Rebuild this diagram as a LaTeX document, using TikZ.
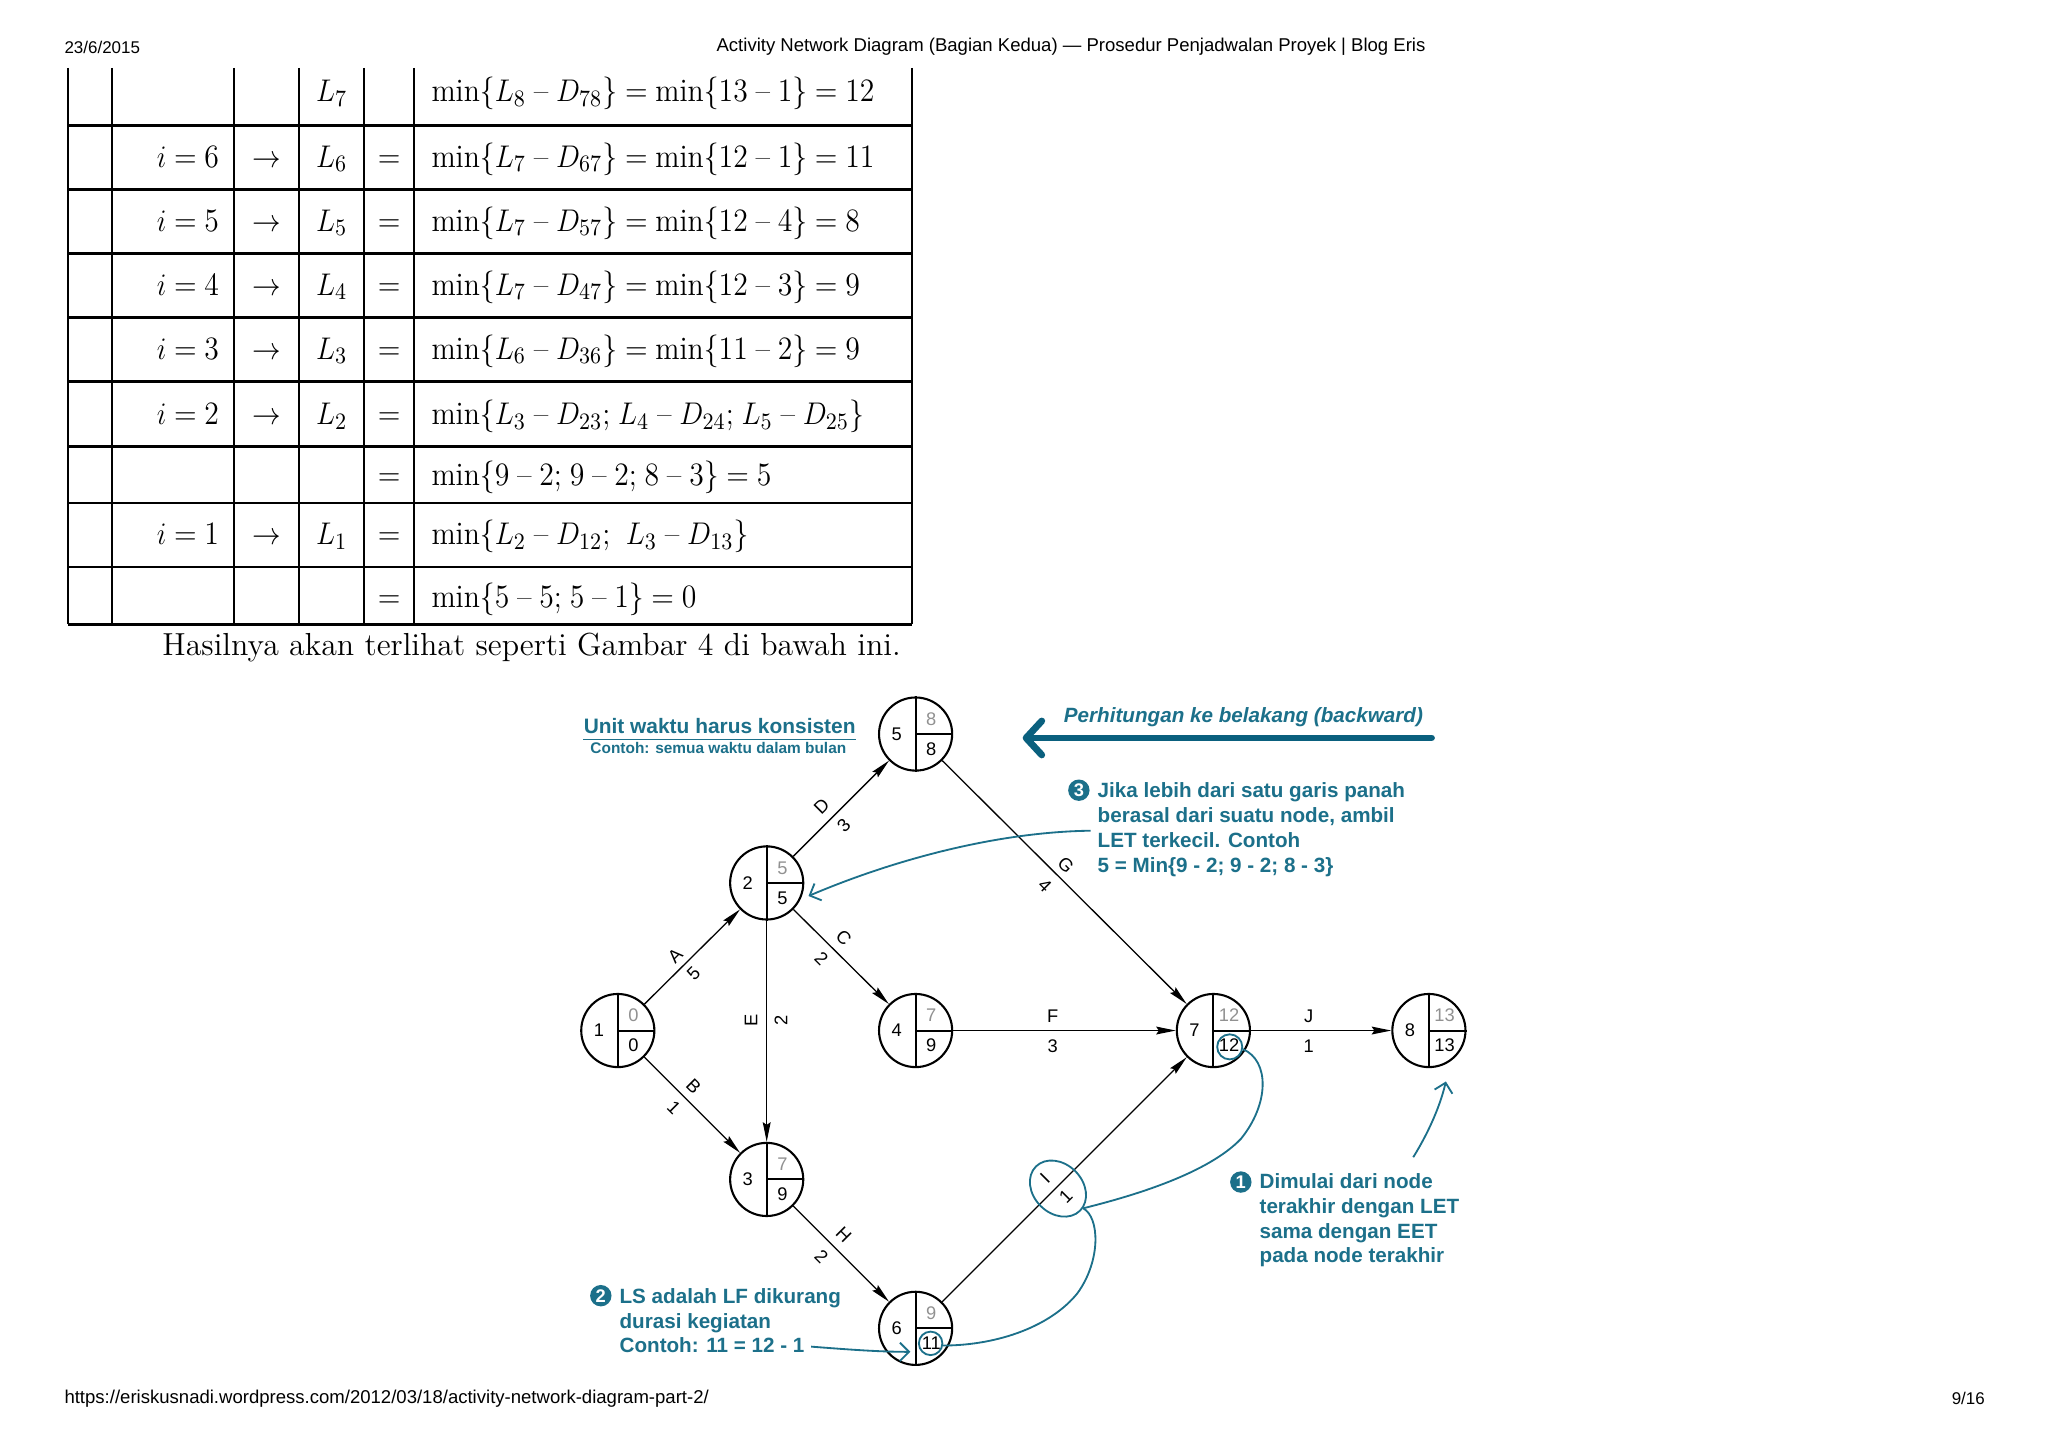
\documentclass[tikz,border=0pt]{standalone}
\usepackage{fontspec}
\setsansfont{Liberation Sans}
\usetikzlibrary{arrows.meta,calc,shapes.geometric}
\definecolor{tealA}{RGB}{28,112,138}
\definecolor{tealB}{RGB}{10,96,126}
\definecolor{eetgray}{RGB}{145,145,145}
\newcommand{\tabfont}{\fontsize{12.5}{14}\selectfont\spaceskip=0.26em plus 0.05em minus 0.05em\relax}
\newcommand{\evnode}[6]{%
  \node[evt] (#1) at (#2,#3) {};
  \draw[divline] (#1.north) -- (#1.south) (#1.center) -- (#1.east);
  \node[numtxt] (#1num) at ($(#1.center)+(-14.5,0)$) {#4};
  \node[numtxt, text=eetgray] (#1eet) at ($(#1.center)+(12,-11.5)$) {#5};
  \node[numtxt] (#1let) at ($(#1.center)+(12,11.5)$) {#6};
}
\begin{document}
\begin{tikzpicture}[x=0.5pt,y=-0.5pt,
  evt/.style={circle, draw, line width=0.8pt, minimum size=28pt, inner sep=0},
  divline/.style={line width=0.8pt},
  numtxt/.style={font=\sffamily\fontsize{7}{8}\selectfont, inner sep=0},
  lab/.style={font=\sffamily\fontsize{7}{8}\selectfont, inner sep=0},
  act/.style={line width=0.5pt, -{Stealth[length=7.5pt,width=3pt,inset=1pt]}},
  tline/.style={draw=tealA, line width=0.7pt},
  tarrow/.style={tline, -{Straight Barb[length=3.5pt,width=7pt]}},
  tcirc/.style={circle, draw=tealA, line width=0.7pt, inner sep=0},
  bullet/.style={circle, fill=tealA, text=white, font=\sffamily\bfseries\fontsize{7}{7}\selectfont, minimum size=8.2pt, inner sep=0},
  ann/.style={font=\sffamily\bfseries\fontsize{7.9}{9.5}\selectfont, text=tealA, align=left, inner sep=0, anchor=north west},
  hdr/.style={font=\sffamily\fontsize{6.5}{8}\selectfont, inner sep=0},
  hdrw/.style={font=\sffamily\fontsize{7.1}{8}\selectfont, inner sep=0},
  tabtxt/.style={font=\tabfont, inner sep=0, xscale=0.91},
  vline/.style={line width=0.7pt},
  hline/.style={line width=1pt}
]
\fill[white] (0,0) rectangle (1568,1108);
\useasboundingbox (0,0) rectangle (1568,1108);

% header and footer
\node[hdr, anchor=west] (date) at (49,36) {23/6/2015};
\node[hdrw] (title) at (820,36) {Activity Network Diagram (Bagian Kedua) — Prosedur Penjadwalan Proyek | Blog Eris};
\node[hdrw, anchor=west] (url) at (49,1071) {https://eriskusnadi.wordpress.com/2012/03/18/activity-network-diagram-part-2/};
\node[hdr, anchor=east] (page) at (1520,1071) {9/16};

% table grid
\foreach \x in {52,86,179,229,279,317,698} \draw[vline] (\x,52) -- (\x,478);
\foreach \y in {96,145,194,243,292,342,385,434,478} \draw[hline] (52,\y) -- (698,\y);

% table text
\node[tabtxt, anchor=base] (r0L) at (254,78) {$L_7$};
\node[tabtxt, anchor=base west] (r0f) at (330,78) {min\{$L_8$ – $D_{78}$\} = min\{13 – 1\} = 12};

\node[tabtxt, anchor=base east] (r1i) at (168,128) {$i$ = 6};
\node[tabtxt, anchor=base] (r1a) at (204,128) {$\rightarrow$};
\node[tabtxt, anchor=base] (r1L) at (254,128) {$L_6$};
\node[tabtxt, anchor=base] (r1e) at (298,128) {=};
\node[tabtxt, anchor=base west] (r1f) at (330,128) {min\{$L_7$ – $D_{67}$\} = min\{12 – 1\} = 11};

\node[tabtxt, anchor=base east] (r2i) at (168,177) {$i$ = 5};
\node[tabtxt, anchor=base] (r2a) at (204,177) {$\rightarrow$};
\node[tabtxt, anchor=base] (r2L) at (254,177) {$L_5$};
\node[tabtxt, anchor=base] (r2e) at (298,177) {=};
\node[tabtxt, anchor=base west] (r2f) at (330,177) {min\{$L_7$ – $D_{57}$\} = min\{12 – 4\} = 8};

\node[tabtxt, anchor=base east] (r3i) at (168,226) {$i$ = 4};
\node[tabtxt, anchor=base] (r3a) at (204,226) {$\rightarrow$};
\node[tabtxt, anchor=base] (r3L) at (254,226) {$L_4$};
\node[tabtxt, anchor=base] (r3e) at (298,226) {=};
\node[tabtxt, anchor=base west] (r3f) at (330,226) {min\{$L_7$ – $D_{47}$\} = min\{12 – 3\} = 9};

\node[tabtxt, anchor=base east] (r4i) at (168,275) {$i$ = 3};
\node[tabtxt, anchor=base] (r4a) at (204,275) {$\rightarrow$};
\node[tabtxt, anchor=base] (r4L) at (254,275) {$L_3$};
\node[tabtxt, anchor=base] (r4e) at (298,275) {=};
\node[tabtxt, anchor=base west] (r4f) at (330,275) {min\{$L_6$ – $D_{36}$\} = min\{11 – 2\} = 9};

\node[tabtxt, anchor=base east] (r5i) at (168,325) {$i$ = 2};
\node[tabtxt, anchor=base] (r5a) at (204,325) {$\rightarrow$};
\node[tabtxt, anchor=base] (r5L) at (254,325) {$L_2$};
\node[tabtxt, anchor=base] (r5e) at (298,325) {=};
\node[tabtxt, anchor=base west] (r5f) at (330,325) {min\{$L_3$ – $D_{23}$; $L_4$ – $D_{24}$; $L_5$ – $D_{25}$\}};

\node[tabtxt, anchor=base] (r6e) at (298,372) {=};
\node[tabtxt, anchor=base west] (r6f) at (330,372) {min\{9 – 2; 9 – 2; 8 – 3\} = 5};

\node[tabtxt, anchor=base east] (r7i) at (168,417) {$i$ = 1};
\node[tabtxt, anchor=base] (r7a) at (204,417) {$\rightarrow$};
\node[tabtxt, anchor=base] (r7L) at (254,417) {$L_1$};
\node[tabtxt, anchor=base] (r7e) at (298,417) {=};
\node[tabtxt, anchor=base west] (r7f) at (330,417) {min\{$L_2$ – $D_{12}$;\ \ $L_3$ – $D_{13}$\}};

\node[tabtxt, anchor=base] (r8e) at (298,465) {=};
\node[tabtxt, anchor=base west] (r8f) at (330,465) {min\{5 – 5; 5 – 1\} = 0};

\node[font=\fontsize{12.2}{14}\selectfont, inner sep=0, anchor=base west] (hasil) at (124,502) {Hasilnya akan terlihat seperti Gambar 4 di bawah ini.};

% event nodes
\evnode{n1}{473}{789}{1}{0}{0}
\evnode{n2}{587}{676}{2}{5}{5}
\evnode{n5}{701}{562}{5}{8}{8}
\evnode{n4}{701}{789}{4}{7}{9}
\evnode{n3}{587}{903}{3}{7}{9}
\evnode{n6}{701}{1017}{6}{9}{11}
\evnode{n7}{929}{789}{7}{12}{12}
\evnode{n8}{1094}{789}{8}{13}{13}

% activities
\draw[act] (n1) -- (n2);
\draw[act] (n1) -- (n3);
\draw[act] (n2) -- (n3);
\draw[act] (n2) -- (n4);
\draw[act] (n2) -- (n5);
\draw[act] (n5) -- (n7);
\draw[act] (n4) -- (n7);
\draw[act] (n3) -- (n6);
\draw[act] (n6) -- (n7);
\draw[act] (n7) -- (n8);

% activity labels
\node[lab, rotate=45] (lA) at (517,732) {A};
\node[lab, rotate=45] (dA) at (531,745) {5};
\node[lab, rotate=-45] (lB) at (531,832) {B};
\node[lab, rotate=-45] (dB) at (516,848) {1};
\node[lab, rotate=90] (lE) at (575,781) {E};
\node[lab, rotate=90] (dE) at (598,781) {2};
\node[lab, rotate=-45] (lC) at (646,718) {C};
\node[lab, rotate=-45] (dC) at (629,734) {2};
\node[lab, rotate=45] (lD) at (629,617) {D};
\node[lab, rotate=45] (dD) at (646,632) {3};
\node[lab, rotate=-45] (lG) at (816,662) {G};
\node[lab, rotate=-45] (dG) at (800,678) {4};
\node[lab] (lF) at (806,778) {F};
\node[lab] (dF) at (806,801) {3};
\node[lab, rotate=-45] (lH) at (646,945) {H};
\node[lab, rotate=-45] (dH) at (629,962) {2};
\node[lab, rotate=45] (lI) at (800,902) {I};
\node[lab, rotate=45] (dI) at (816,916) {1};
\node[lab] (lJ) at (1002,778) {J};
\node[lab] (dJ) at (1002,801) {1};

% teal annotations
\node[font=\sffamily\bfseries\fontsize{8}{9}\selectfont, text=tealA, inner sep=0] (unit) at (551,556) {Unit waktu harus konsisten};
\draw[tealA, line width=0.6pt] ($(unit.south west)+(0,4)$) -- ($(unit.south east)+(0,4)$);
\node[font=\sffamily\bfseries\fontsize{5.9}{7}\selectfont, text=tealA, inner sep=0] (contoh) at (550,573) {Contoh: semua waktu dalam bulan};

\node[font=\sffamily\bfseries\itshape\fontsize{7.9}{9}\selectfont, text=tealA, inner sep=0] (back) at (952,549) {Perhitungan ke belakang (backward)};
\coordinate (bkS) at (1096,565);
\coordinate (bkE) at (783,565);
\draw[tealB, line width=2.6pt, line cap=round, -{Straight Barb[length=6pt,width=13pt,round]}] (bkS) -- (bkE);

\node[bullet] (b3) at (826,605) {3};
\node[ann] (t3) at (840,599) {Jika lebih dari satu garis panah\\berasal dari suatu node, ambil\\LET terkecil. Contoh\\5 = Min\{9 - 2; 9 - 2; 8 - 3\}};
\node[bullet] (b1) at (950,905) {1};
\node[ann] (t1) at (964,898) {Dimulai dari node\\terakhir dengan LET\\sama dengan EET\\pada node terakhir};
\node[bullet] (b2) at (460,992) {2};
\node[ann] (t2) at (474,986) {LS adalah LF dikurang\\durasi kegiatan\\Contoh: 11 = 12 - 1};

\node[tcirc, minimum size=9.6pt] (c7) at (941.5,801.5) {};
\node[tcirc, minimum size=9pt] (c6) at (712.5,1028.5) {};
\node[draw=tealA, line width=0.7pt, ellipse, minimum width=23.9pt, minimum height=18.8pt, inner sep=0, rotate=-45] (ell) at (810,910) {};

\draw[tline] (c7.-10) .. controls (972,812) and (972,845) .. (950,872) .. controls (925,898) and (870,915) .. (ell.7);
\draw[tline] (ell.7) .. controls (842,932) and (843,965) .. (825,990) .. controls (805,1015) and (765,1030) .. (c6.-10);

\coordinate (a3s) at (835,636);
\coordinate (a3e) at (619,686);
\draw[tarrow] (a3s) .. controls (760,637) and (680,660) .. (a3e);

\coordinate (a1s) at (1082,886);
\coordinate (a1e) at (1107,828);
\draw[tarrow] (a1s) .. controls (1095,865) and (1103,845) .. (a1e);

\coordinate (a2s) at (621,1031);
\coordinate (a2e) at (697,1035);
\draw[tarrow] (a2s) .. controls (647,1033) and (672,1035) .. (a2e);
\end{tikzpicture}
\end{document}
